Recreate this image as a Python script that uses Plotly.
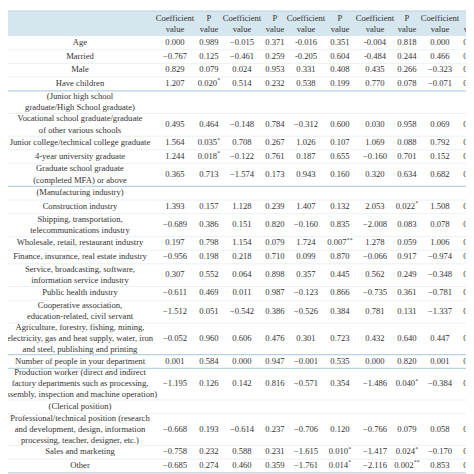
import plotly.graph_objects as go

variables = [
    "Age", "Married", "Male", "Have children",
    "(Junior high school<br>graduate/High School graduate)",
    "Vocational school graduate/graduate<br>of other various schools",
    "Junior college/technical college graduate",
    "4-year university graduate",
    "Graduate school graduate<br>(completed MFA) or above",
    "(Manufacturing industry)",
    "Construction industry",
    "Shipping, transportation,<br>telecommunications industry",
    "Wholesale, retail, restaurant industry",
    "Finance, insurance, real estate industry",
    "Service, broadcasting, software,<br>information service industry",
    "Public health industry",
    "Cooperative association,<br>education-related, civil servant",
    "Agriculture, forestry, fishing, mining,<br>electricity, gas and heat supply, water, iron<br>and steel, publishing and printing",
    "Number of people in your department",
    "Production worker (direct and indirect<br>factory departments such as processing,<br>assembly, inspection and machine operation)",
    "(Clerical position)",
    "Professional/technical position (research<br>and development, design, information<br>processing, teacher, designer, etc.)",
    "Sales and marketing",
    "Other",
]

coef1 = ["0.000", "−0.767", "0.829", "1.207", "", "0.495", "1.564", "1.244", "0.365", "", "1.393", "−0.689", "0.197", "−0.956", "0.307", "−0.611", "−1.512", "−0.052", "0.001", "−1.195", "", "−0.668", "−0.758", "−0.685"]
p1 = ["0.989", "0.125", "0.079", "0.020<sup>*</sup>", "", "0.464", "0.035<sup>*</sup>", "0.018<sup>*</sup>", "0.713", "", "0.157", "0.386", "0.798", "0.198", "0.552", "0.469", "0.051", "0.960", "0.584", "0.126", "", "0.193", "0.232", "0.274"]
coef2 = ["−0.015", "−0.461", "0.024", "0.514", "", "−0.148", "0.708", "−0.122", "−1.574", "", "1.128", "0.151", "1.154", "0.218", "0.064", "0.011", "−0.542", "0.606", "0.000", "0.142", "", "−0.614", "0.588", "0.460"]
p2 = ["0.371", "0.259", "0.953", "0.232", "", "0.784", "0.267", "0.761", "0.173", "", "0.239", "0.820", "0.079", "0.710", "0.898", "0.987", "0.386", "0.476", "0.947", "0.816", "", "0.237", "0.231", "0.359"]
coef3 = ["-0.016", "-0.205", "0.331", "0.538", "", "−0.312", "1.026", "0.187", "0.943", "", "1.407", "−0.160", "1.724", "0.099", "0.357", "−0.123", "−0.526", "0.301", "−0.001", "−0.571", "", "−0.706", "−1.615", "−1.761"]
p3 = ["0.351", "0.604", "0.408", "0.199", "", "0.600", "0.107", "0.655", "0.160", "", "0.132", "0.835", "0.007<sup>**</sup>", "0.870", "0.445", "0.866", "0.384", "0.723", "0.535", "0.354", "", "0.120", "0.010<sup>*</sup>", "0.014<sup>*</sup>"]
coef4 = ["-0.004", "-0.484", "0.435", "0.770", "", "0.030", "1.069", "−0.160", "0.320", "", "2.053", "−2.008", "1.278", "−0.066", "0.562", "−0.735", "0.781", "0.432", "0.000", "−1.486", "", "−0.766", "−1.417", "−2.116"]
p4 = ["0.818", "0.244", "0.266", "0.078", "", "0.958", "0.088", "0.701", "0.634", "", "0.022<sup>*</sup>", "0.083", "0.059", "0.917", "0.249", "0.361", "0.131", "0.640", "0.820", "0.040<sup>*</sup>", "", "0.079", "0.024<sup>*</sup>", "0.002<sup>**</sup>"]
coef5 = ["0.000", "0.466", "−0.323", "−0.071", "", "0.069", "0.792", "0.152", "0.682", "", "1.508", "0.078", "1.006", "−0.974", "−0.348", "−0.781", "−1.337", "0.447", "0.001", "−0.384", "", "0.058", "−0.170", "0.853"]
p5 = ["0.993", "0.333", "0.517", "0.889", "", "0.916", "0.300", "0.768", "0.419", "", "0.129", "0.920", "0.188", "0.291", "0.549", "0.364", "0.102", "0.668", "0.421", "0.632", "", "0.922", "0.801", "0.153"]

header = ["Coefficient<br>value", "P<br>value"] * 5

# rows after which a group separator line is drawn
group_ends = ["Have children", "Graduate school graduate<br>(completed MFA) or above",
              variables[17], variables[18], "Other"]

columns = [coef1, p1, coef2, p2, coef3, p3, coef4, p4, coef5, p5]
col_x = [167, 201, 234, 267, 298, 332, 367, 399, 432, 465]
label_x = 72
top = 28
single_h, extra_h = 13.7, 9.0

# row centres from the number of text lines in each row
centres, bottoms = [], []
y = top
for v in variables:
    h = single_h + extra_h * (v.count("<br>"))
    centres.append(y + h / 2)
    y += h
    bottoms.append(y)

font = dict(family="Liberation Serif", size=8.6, color="#333333")
fig = go.Figure()
fig.add_trace(go.Scatter(x=[label_x] * len(variables), y=centres, text=variables,
                         mode="text", textfont=font, hoverinfo="skip"))
for cx, vals in zip(col_x, columns):
    fig.add_trace(go.Scatter(x=[cx] * len(vals), y=centres, text=vals,
                             mode="text", textfont=font, hoverinfo="skip"))
fig.add_trace(go.Scatter(x=col_x, y=[top / 2 + 2] * len(col_x), text=header,
                         mode="text", textfont=font, hoverinfo="skip"))

shapes = [dict(type="rect", x0=0, x1=474, y0=3, y1=top, xref="x", yref="y",
               fillcolor="#d6e6ef", line=dict(width=0), layer="below")]
for v, b in zip(variables, bottoms):
    color = "#b9d2df" if v in group_ends else "#e6eef3"
    shapes.append(dict(type="line", x0=0, x1=474, y0=b, y1=b, xref="x", yref="y",
                       line=dict(color=color, width=1.2 if v in group_ends else 0.8)))
shapes.append(dict(type="line", x0=0, x1=474, y0=3, y1=3, xref="x", yref="y",
                   line=dict(color="#b9d2df", width=1)))

fig.update_layout(width=474, height=474, margin=dict(l=0, r=0, t=0, b=0),
                  paper_bgcolor="white", plot_bgcolor="white", showlegend=False,
                  shapes=shapes,
                  xaxis=dict(range=[0, 474], visible=False, fixedrange=True),
                  yaxis=dict(range=[474, 0], visible=False, fixedrange=True))

fig.write_html("out.html")
